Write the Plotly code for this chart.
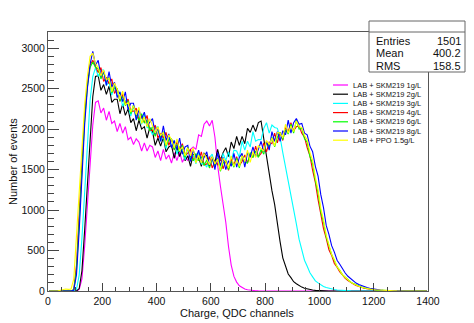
import plotly.graph_objects as go

# ---------------- data (10-channel bins, value per bin) ----------------
BIN = 10
labels = ["LAB + SKM219 1g/L", "LAB + SKM219 2g/L", "LAB + SKM219 3g/L",
          "LAB + SKM219 4g/L", "LAB + SKM219 6g/L", "LAB + SKM219 8g/L",
          "LAB + PPO 1.5g/L"]
colors = ["#ff00ff", "#000000", "#00ffff", "#ff0000", "#00ff00", "#0000ff", "#ffff00"]

start_1g = 80
counts_1g = [0, 0, 0, 20, 150, 550, 1050, 1600, 2050, 2330,
             2350, 2200, 2260, 2110, 2220, 2070, 2100, 1970, 2070, 1950,
             2030, 1870, 1900, 1810, 1880, 1840, 1730, 1830, 1730, 1800,
             1780, 1650, 1730, 1610, 1750, 1630, 1680, 1580, 1710, 1610,
             1720, 1590, 1660, 1610, 1750, 1780, 1750, 1930, 1910, 2060,
             2100, 2040, 2110, 1900, 1550, 1300, 1100, 850, 550, 320,
             180, 110, 65, 40, 25, 16, 10, 6, 4, 2, 1, 0]

start_2g = 80
counts_2g = [0, 0, 0, 30, 250, 750, 1350, 1950, 2400, 2650,
             2660, 2480, 2550, 2430, 2530, 2330, 2370, 2370, 2190, 2310,
             2170, 2250, 2080, 2130, 1980, 2110, 2000, 2030, 1890, 2020,
             1970, 1800, 1890, 1790, 1900, 1720, 1780, 1800, 1640, 1780,
             1660, 1760, 1610, 1670, 1540, 1690, 1600, 1650, 1540, 1700,
             1670, 1540, 1660, 1590, 1750, 1610, 1710, 1770, 1660, 1840,
             1760, 1910, 1800, 1910, 1820, 2010, 1960, 2050, 1970, 2080,
             2100, 1880, 1660, 1470, 1240, 1070, 810, 610, 410, 310,
             210, 165, 115, 90, 65, 48, 35, 25, 18, 12,
             8, 5, 3, 1, 0]

start_3g = 80
counts_3g = [0, 0, 20, 200, 650, 1250, 1850, 2350, 2650, 2760,
             2650, 2730, 2730, 2540, 2580, 2420, 2550, 2410, 2460, 2280,
             2360, 2290, 2160, 2290, 2130, 2180, 2060, 2190, 2020, 2010,
             1930, 2020, 2030, 1850, 1910, 1760, 1910, 1790, 1860, 1690,
             1790, 1740, 1620, 1770, 1620, 1680, 1570, 1720, 1570, 1580,
             1530, 1650, 1690, 1540, 1630, 1520, 1700, 1610, 1720, 1600,
             1740, 1730, 1650, 1850, 1740, 1850, 1780, 1970, 1850, 1870,
             1870, 2010, 2080, 1950, 2050, 2020, 2010, 1900, 1710, 1540,
             1340, 1190, 990, 830, 640, 510, 380, 305, 225, 175,
             125, 100, 75, 56, 42, 32, 24, 18, 13, 9,
             6, 4, 2, 1, 0]

start_4g = 80
counts_4g = [0, 20, 320, 950, 1650, 2180, 2560, 2790, 2850, 2780,
             2700, 2760, 2590, 2640, 2560, 2620, 2440, 2500, 2340, 2430,
             2320, 2370, 2220, 2220, 2260, 2110, 2170, 2080, 2170, 1990,
             1980, 2050, 1890, 1950, 1890, 1960, 1800, 1880, 1740, 1840,
             1750, 1820, 1680, 1700, 1750, 1610, 1680, 1610, 1720, 1560,
             1570, 1660, 1520, 1600, 1560, 1650, 1510, 1610, 1490, 1630,
             1560, 1660, 1550, 1600, 1680, 1580, 1690, 1650, 1790, 1660,
             1700, 1830, 1720, 1840, 1820, 1950, 1830, 1960, 1860, 2020,
             1970, 2080, 1980, 2030, 2040, 1950, 1900, 1770, 1670, 1490,
             1340, 1130, 960, 770, 650, 510, 440, 340, 295, 235,
             200, 155, 130, 105, 85, 68, 55, 44, 35, 28,
             22, 17, 13, 10, 7, 5, 3, 2, 1, 0]

start_6g = 80
counts_6g = [0, 15, 260, 850, 1550, 2120, 2520, 2760, 2830, 2760,
             2750, 2620, 2710, 2580, 2640, 2450, 2510, 2500, 2350, 2400,
             2290, 2350, 2190, 2300, 2170, 2110, 2190, 2080, 2110, 1980,
             2030, 1910, 2010, 1890, 1970, 1790, 1870, 1880, 1750, 1810,
             1720, 1800, 1650, 1780, 1660, 1610, 1700, 1610, 1660, 1550,
             1620, 1520, 1640, 1540, 1640, 1480, 1580, 1610, 1500, 1600,
             1530, 1640, 1520, 1680, 1590, 1580, 1710, 1650, 1730, 1650,
             1750, 1690, 1840, 1780, 1900, 1780, 1900, 1960, 1870, 1990,
             1940, 2060, 1950, 2110, 2000, 2010, 1880, 1840, 1660, 1570,
             1360, 1210, 980, 850, 670, 560, 450, 375, 300, 255,
             200, 170, 135, 112, 91, 74, 60, 48, 39, 31,
             25, 20, 15, 11, 8, 6, 4, 3, 2, 1, 0]

start_8g = 80
counts_8g = [0, 10, 200, 750, 1450, 2050, 2500, 2800, 2960, 2790,
             2850, 2650, 2720, 2540, 2710, 2520, 2580, 2390, 2460, 2340,
             2460, 2240, 2320, 2320, 2110, 2240, 2130, 2210, 2040, 2080,
             2130, 1940, 2020, 1850, 2040, 1860, 1940, 1770, 1860, 1750,
             1890, 1690, 1780, 1800, 1600, 1740, 1640, 1740, 1590, 1650,
             1720, 1550, 1650, 1500, 1710, 1550, 1650, 1500, 1610, 1540,
             1700, 1530, 1650, 1700, 1530, 1710, 1650, 1780, 1660, 1750,
             1850, 1720, 1850, 1740, 1970, 1850, 1970, 1850, 1980, 1930,
             2110, 1950, 2080, 2130, 2060, 2070, 1950, 1930, 1790, 1720,
             1540, 1420, 1190, 1030, 810, 700, 560, 480, 380, 330,
             270, 222, 182, 150, 122, 98, 80, 64, 52, 42,
             33, 26, 21, 16, 12, 9, 7, 5, 3, 2, 1, 0]

start_ppo = 40
counts_ppo = [10, 20, 25, 20,
              25, 150, 700, 1300, 1850, 2300, 2650, 2900, 2940, 2810,
              2760, 2660, 2730, 2610, 2630, 2460, 2570, 2490, 2370, 2470,
              2300, 2330, 2210, 2290, 2180, 2270, 2070, 2150, 2030, 2130,
              2040, 1950, 2030, 1920, 1960, 1800, 1930, 1870, 1770, 1880,
              1730, 1780, 1670, 1770, 1670, 1770, 1580, 1680, 1580, 1700,
              1630, 1560, 1660, 1570, 1630, 1490, 1640, 1600, 1520, 1670,
              1540, 1620, 1540, 1670, 1600, 1740, 1590, 1720, 1650, 1800,
              1760, 1730, 1860, 1810, 1890, 1790, 1960, 1950, 1890, 2060,
              1950, 2040, 1970, 2100, 2030, 2020, 1920, 1870, 1710, 1610,
              1400, 1250, 1020, 880, 690, 580, 450, 385, 300, 255,
              200, 170, 135, 110, 90, 72, 58, 47, 38, 30,
              24, 19, 15, 12, 9, 7, 5, 4, 3, 2, 1, 0]

series = [(start_1g, counts_1g), (start_2g, counts_2g), (start_3g, counts_3g),
          (start_4g, counts_4g), (start_6g, counts_6g), (start_8g, counts_8g),
          (start_ppo, counts_ppo)]

stats_names = ["Entries", "Mean", "RMS"]
stats_values = ["1501", "400.2", "158.5"]

X_MAX = 1400
Y_MAX = 3200

# ---------------- figure ----------------
W, H = 474, 323
L, R, T, B = 48, 46, 32, 32
PW, PH = W - L - R, H - T - B

def px(p):
    return (p - L) / PW

def py(p):
    return (H - B - p) / PH

fig = go.Figure()
for (start, counts), col, name in zip(series, colors, labels):
    nb_before = start // BIN
    total_bins = X_MAX // BIN
    vals = [0] * nb_before + list(counts)
    vals = vals + [0] * (total_bins - len(vals))
    xs = [i * BIN + BIN / 2 for i in range(total_bins)]
    fig.add_trace(go.Scatter(x=xs, y=vals, mode="lines", name=name,
                             line=dict(color=col, width=1.1),
                             showlegend=False, hoverinfo="skip"))

FONT = "Liberation Sans, Arial, Helvetica, sans-serif"
axis_common = dict(showgrid=False, zeroline=False, showline=True, linecolor="#555",
                   linewidth=1, mirror=True, ticks="inside", tickcolor="#444",
                   tickfont=dict(family=FONT, size=10.5, color="#111"))

fig.update_xaxes(range=[0, X_MAX], dtick=200, tick0=0, ticklen=8,
                 minor=dict(dtick=50, ticklen=4, ticks="inside", tickcolor="#444"),
                 **axis_common)
fig.update_yaxes(range=[0, Y_MAX], dtick=500, tick0=0, ticklen=11,
                 minor=dict(dtick=100, ticklen=5.5, ticks="inside", tickcolor="#444"),
                 **axis_common)

shapes = []
annotations = []

# stats box
bx0, bx1, by0, by1, byh = 369, 465, 21, 72, 32
shapes.append(dict(type="rect", xref="paper", yref="paper",
                   x0=px(bx0), x1=px(bx1), y0=py(by1), y1=py(by0),
                   line=dict(color="#666", width=1), fillcolor="white", layer="above"))
shapes.append(dict(type="line", xref="paper", yref="paper",
                   x0=px(bx0), x1=px(bx1), y0=py(byh), y1=py(byh),
                   line=dict(color="#666", width=1), layer="above"))
for i, (n, v) in enumerate(zip(stats_names, stats_values)):
    yc = 41 + i * 12.5
    annotations.append(dict(x=px(374), y=py(yc), xref="paper", yref="paper",
                            text=n, showarrow=False, xanchor="left", yanchor="middle",
                            font=dict(family=FONT, size=11, color="#111")))
    annotations.append(dict(x=px(463), y=py(yc), xref="paper", yref="paper",
                            text=v, showarrow=False, xanchor="right", yanchor="middle",
                            font=dict(family=FONT, size=11, color="#111")))

# legend (manual)
for i, (name, col) in enumerate(zip(labels, colors)):
    yc = 85 + i * 9.2
    shapes.append(dict(type="line", xref="paper", yref="paper",
                       x0=px(333), x1=px(348), y0=py(yc), y1=py(yc),
                       line=dict(color=col, width=1.2), layer="above"))
    annotations.append(dict(x=px(351), y=py(yc), xref="paper", yref="paper",
                            text=name, showarrow=False, xanchor="left", yanchor="middle",
                            font=dict(family=FONT, size=7.5, color="#111")))

# axis titles
annotations.append(dict(x=px(237), y=py(313), xref="paper", yref="paper",
                        text="Charge, QDC channels", showarrow=False,
                        xanchor="center", yanchor="middle",
                        font=dict(family=FONT, size=11, color="#111")))
annotations.append(dict(x=px(13), y=py(162), xref="paper", yref="paper",
                        text="Number of events", showarrow=False, textangle=-90,
                        xanchor="center", yanchor="middle",
                        font=dict(family=FONT, size=11, color="#111")))

fig.update_layout(width=W, height=H, margin=dict(l=L, r=R, t=T, b=B),
                  paper_bgcolor="white", plot_bgcolor="white",
                  shapes=shapes, annotations=annotations, showlegend=False)

fig.write_html("out.html", config={"displayModeBar": False})
